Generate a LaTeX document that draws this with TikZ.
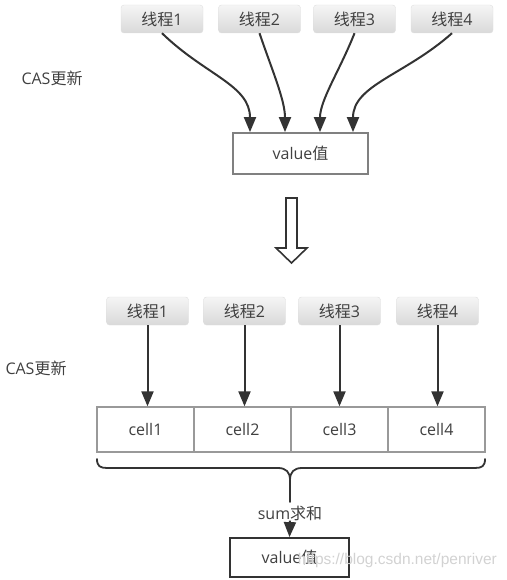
\documentclass[tikz,border=0pt]{standalone}
\usepackage{fontspec}
\setmainfont{Open Sans}
\newfontfamily\zhfont{Noto Sans CJK SC}
\newcommand{\zh}[1]{{\zhfont #1}}
\newfontfamily\wmfont{Liberation Sans}
\usetikzlibrary{arrows.meta,calc,shadings}
\definecolor{txt}{HTML}{404040}
\definecolor{ln}{HTML}{333333}
\definecolor{bx}{HTML}{808080}
\tikzset{
  thread/.style={rounded corners=3pt, top color=gray!8, bottom color=gray!30, draw=gray!25, line width=0.4pt,
    minimum width=82pt, minimum height=28pt, inner sep=0pt, text=txt, font=\fontsize{16}{16}\selectfont},
  lbl/.style={text=txt, font=\fontsize{16}{16}\selectfont, inner sep=0pt},
  valbox/.style={draw=bx, line width=1.8pt, fill=white, text=txt, inner sep=0pt, font=\fontsize{16}{16}\selectfont},
  cellbox/.style={draw=bx!80, line width=1.3pt, fill=white, minimum width=97pt, minimum height=45pt, inner sep=0pt, text=txt, font=\fontsize{16}{16}\selectfont},
  arr/.style={draw=ln, line width=2pt, -{Triangle[width=12pt,length=15pt]}},
}
\begin{document}
\begin{tikzpicture}[x=1pt,y=-1pt]
\useasboundingbox (0,0) rectangle (506,580);
% top part
\node[thread] (t1) at (162,19) {\zh{线程}1};
\node[thread] (t2) at (259.5,19) {\zh{线程}2};
\node[thread] (t3) at (354.5,19) {\zh{线程}3};
\node[thread] (t4) at (452,19) {\zh{线程}4};
\node[lbl] (cas1) at (52,78) {CAS\zh{更新}};
\node[valbox, minimum width=135pt, minimum height=41pt] (v1) at (300.5,153.5) {value\zh{值}};
\draw[arr] (t1.south) .. controls (205,75) and (250,85) .. ($(v1.north)+(-50.5,0)$);
\draw[arr] (t2.south) .. controls (272,70) and (285,100) .. ($(v1.north)+(-15.5,0)$);
\draw[arr] (t3.south) .. controls (340,70) and (320,100) .. ($(v1.north)+(19.5,0)$);
\draw[arr] (t4.south) .. controls (405,75) and (353,85) .. ($(v1.north)+(52.5,0)$);
% hollow arrow
\draw[ln, line width=1.6pt, fill=white, line join=miter]
  (286,198) -- (297,198) -- (297,248) -- (307,248) -- (291.5,263) -- (276,248) -- (286,248) -- cycle;
% bottom part
\node[thread] (b1) at (147.5,311) {\zh{线程}1};
\node[thread] (b2) at (244.5,311) {\zh{线程}2};
\node[thread] (b3) at (339.5,311) {\zh{线程}3};
\node[thread] (b4) at (437.5,311) {\zh{线程}4};
\node[lbl] (cas2) at (36,368) {CAS\zh{更新}};
\node[cellbox] (c1) at (145.5,429.5) {cell1};
\node[cellbox] (c2) at (242.5,429.5) {cell2};
\node[cellbox] (c3) at (339.5,429.5) {cell3};
\node[cellbox] (c4) at (436.5,429.5) {cell4};
\draw[arr] (b1.south) -- (b1.south |- c1.north);
\draw[arr] (b2.south) -- (b2.south |- c2.north);
\draw[arr] (b3.south) -- (b3.south |- c3.north);
\draw[arr] (b4.south) -- (b4.south |- c4.north);
% brace
\coordinate (bl) at (97,459);
\coordinate (br) at (485,459);
\coordinate (bm) at (290,502);
\draw[ln, line width=1.8pt, line cap=round]
  (bl) .. controls (97,466) and (100,468) .. (107,468) -- (278,468)
  .. controls (286,468) and (290,472) .. (290,480) -- (bm);
\draw[ln, line width=1.8pt, line cap=round]
  (br) .. controls (485,466) and (482,468) .. (475,468) -- (302,468)
  .. controls (294,468) and (290,472) .. (290,480);
\node[lbl] (sum) at (290,513) {sum\zh{求和}};
\node[valbox, draw=ln, minimum width=119pt, minimum height=39pt] (v2) at (289.5,557.5) {value\zh{值}};
\draw[arr] (sum.south) -- (v2.north);
\node[text=gray!35, font=\wmfont\fontsize{15.5}{15.5}\selectfont, anchor=east, inner sep=0pt] (wm) at (497,560) {https://blog.csdn.net/penriver};
\end{tikzpicture}
\end{document}
